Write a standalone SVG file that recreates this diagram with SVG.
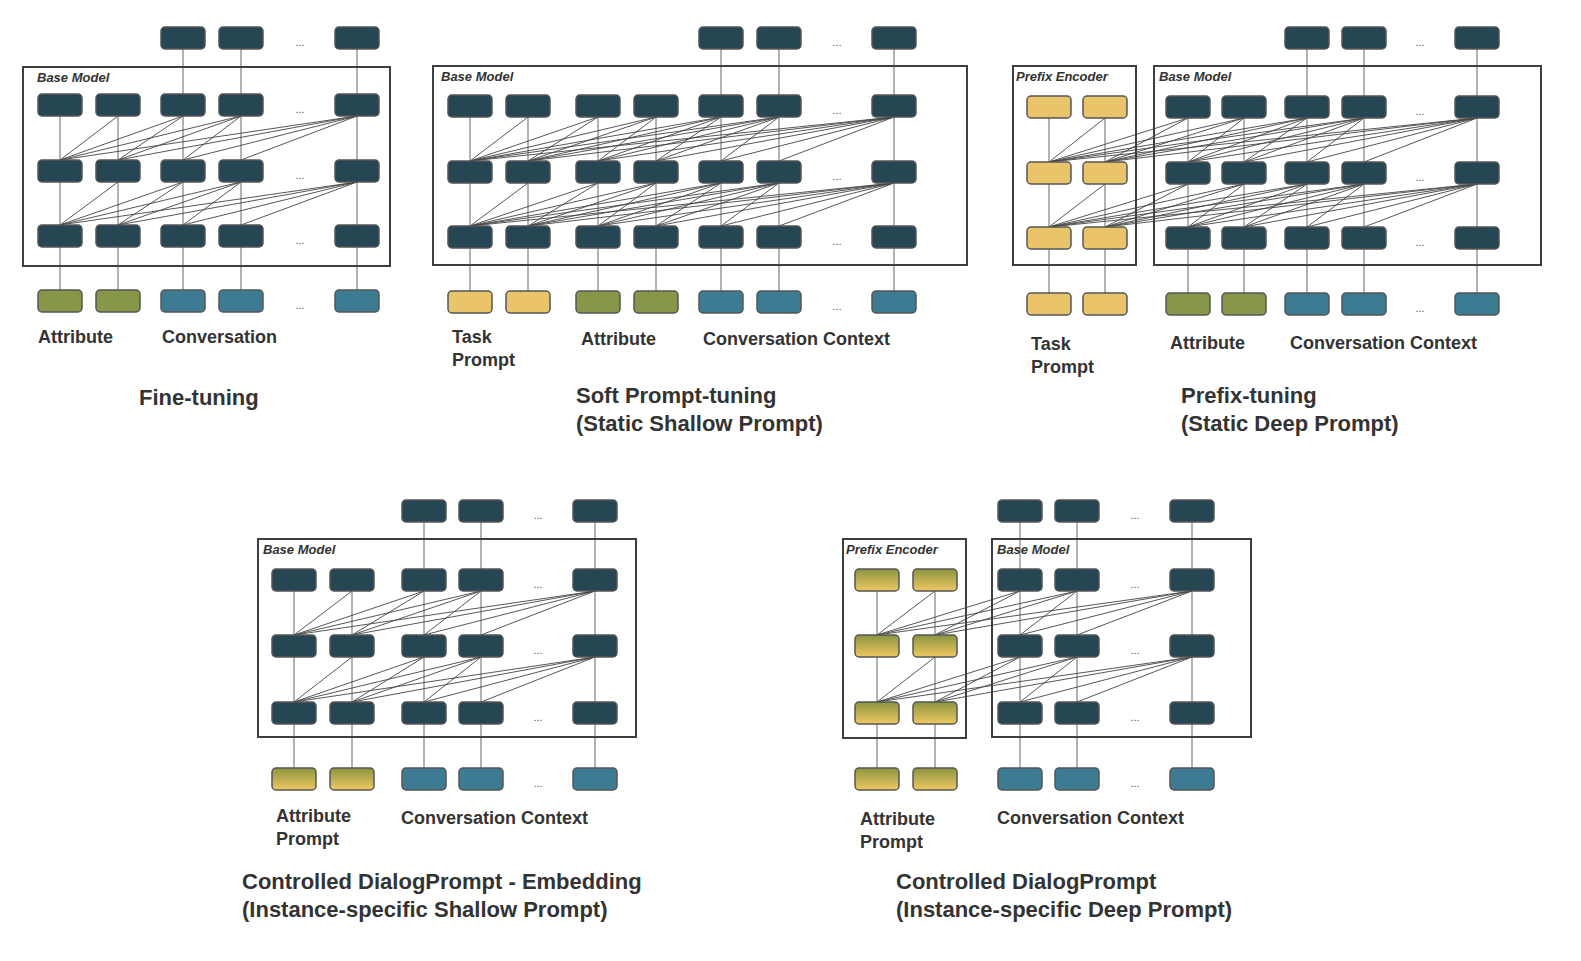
<svg xmlns="http://www.w3.org/2000/svg" xmlns:xlink="http://www.w3.org/1999/xlink" width="1581" height="961" viewBox="0 0 1581 961">
<style>
.d{fill:#264653}.g{fill:#86974a}.b{fill:#3d7b92}.y{fill:#e9c46a}.yg{fill:url(#yg)}
use{stroke:#555;stroke-width:1.5}
.box{fill:none;stroke:#3a3f44;stroke-width:2}
.ln{fill:none;stroke:#444;stroke-width:0.9}
.vl{stroke:#666;stroke-width:1}
.bm{font:italic bold 13px "Liberation Sans",Arial,sans-serif;fill:#333}
.lb{font:bold 18px "Liberation Sans",Arial,sans-serif;fill:#333}
.tt{font:bold 22px "Liberation Sans",Arial,sans-serif;fill:#333}
.dt{font:11px "Liberation Sans",Arial,sans-serif;fill:#555;text-anchor:middle}
</style>
<defs>
<linearGradient id="yg" x1="0" y1="0" x2="0" y2="1"><stop offset="0" stop-color="#8c9440"/><stop offset="1" stop-color="#efc862"/></linearGradient>
<rect id="nd" x="-22" y="-11" width="44" height="22" rx="4"/>
</defs>
<rect width="1581" height="961" fill="#fff"/>

<g id="connectors">
<!-- panel 1 -->
<g class="vl"><line x1="60" y1="105" x2="60" y2="301"/><line x1="118" y1="105" x2="118" y2="301"/><line x1="183" y1="38" x2="183" y2="301"/><line x1="241" y1="38" x2="241" y2="301"/><line x1="357" y1="38" x2="357" y2="301"/></g>
<path class="ln" d="M118 116L60 160M183 116L60 160M183 116L118 160M241 116L60 160M241 116L118 160M241 116L183 160M357 116L60 160M357 116L118 160M357 116L183 160M357 116L241 160M118 182L60 225M183 182L60 225M183 182L118 225M241 182L60 225M241 182L118 225M241 182L183 225M357 182L60 225M357 182L118 225M357 182L183 225M357 182L241 225"/>
<!-- panel 2 -->
<g class="vl"><line x1="470" y1="106" x2="470" y2="302"/><line x1="528" y1="106" x2="528" y2="302"/><line x1="598" y1="106" x2="598" y2="302"/><line x1="656" y1="106" x2="656" y2="302"/><line x1="721" y1="38" x2="721" y2="302"/><line x1="779" y1="38" x2="779" y2="302"/><line x1="894" y1="38" x2="894" y2="302"/></g>
<path class="ln" d="M528 117L470 161M598 117L470 161M598 117L528 161M656 117L470 161M656 117L528 161M656 117L598 161M721 117L470 161M721 117L528 161M721 117L598 161M721 117L656 161M779 117L470 161M779 117L528 161M779 117L598 161M779 117L656 161M779 117L721 161M894 117L470 161M894 117L528 161M894 117L598 161M894 117L656 161M894 117L721 161M894 117L779 161
M528 183L470 226M598 183L470 226M598 183L528 226M656 183L470 226M656 183L528 226M656 183L598 226M721 183L470 226M721 183L528 226M721 183L598 226M721 183L656 226M779 183L470 226M779 183L528 226M779 183L598 226M779 183L656 226M779 183L721 226M894 183L470 226M894 183L528 226M894 183L598 226M894 183L656 226M894 183L721 226M894 183L779 226"/>
<!-- panel 3 -->
<g class="vl"><line x1="1049" y1="107" x2="1049" y2="304"/><line x1="1105" y1="107" x2="1105" y2="304"/><line x1="1188" y1="107" x2="1188" y2="304"/><line x1="1244" y1="107" x2="1244" y2="304"/><line x1="1307" y1="38" x2="1307" y2="304"/><line x1="1364" y1="38" x2="1364" y2="304"/><line x1="1477" y1="38" x2="1477" y2="304"/></g>
<path class="ln" d="M1105 118L1049 162M1188 118L1049 162M1188 118L1105 162M1244 118L1049 162M1244 118L1105 162M1244 118L1188 162M1307 118L1049 162M1307 118L1105 162M1307 118L1188 162M1307 118L1244 162M1364 118L1049 162M1364 118L1105 162M1364 118L1188 162M1364 118L1244 162M1364 118L1307 162M1477 118L1049 162M1477 118L1105 162M1477 118L1188 162M1477 118L1244 162M1477 118L1307 162M1477 118L1364 162
M1105 184L1049 227M1188 184L1049 227M1188 184L1105 227M1244 184L1049 227M1244 184L1105 227M1244 184L1188 227M1307 184L1049 227M1307 184L1105 227M1307 184L1188 227M1307 184L1244 227M1364 184L1049 227M1364 184L1105 227M1364 184L1188 227M1364 184L1244 227M1364 184L1307 227M1477 184L1049 227M1477 184L1105 227M1477 184L1188 227M1477 184L1244 227M1477 184L1307 227M1477 184L1364 227"/>
<!-- panel 4 -->
<g class="vl"><line x1="294" y1="580" x2="294" y2="779"/><line x1="352" y1="580" x2="352" y2="779"/><line x1="424" y1="511" x2="424" y2="779"/><line x1="481" y1="511" x2="481" y2="779"/><line x1="595" y1="511" x2="595" y2="779"/></g>
<path class="ln" d="M352 591L294 635M424 591L294 635M424 591L352 635M481 591L294 635M481 591L352 635M481 591L424 635M595 591L294 635M595 591L352 635M595 591L424 635M595 591L481 635M352 657L294 702M424 657L294 702M424 657L352 702M481 657L294 702M481 657L352 702M481 657L424 702M595 657L294 702M595 657L352 702M595 657L424 702M595 657L481 702"/>
<!-- panel 5 -->
<g class="vl"><line x1="877" y1="580" x2="877" y2="779"/><line x1="935" y1="580" x2="935" y2="779"/><line x1="1020" y1="511" x2="1020" y2="779"/><line x1="1077" y1="511" x2="1077" y2="779"/><line x1="1192" y1="511" x2="1192" y2="779"/></g>
<path class="ln" d="M935 591L877 635M1020 591L877 635M1020 591L935 635M1077 591L877 635M1077 591L935 635M1077 591L1020 635M1192 591L877 635M1192 591L935 635M1192 591L1020 635M1192 591L1077 635M935 657L877 702M1020 657L877 702M1020 657L935 702M1077 657L877 702M1077 657L935 702M1077 657L1020 702M1192 657L877 702M1192 657L935 702M1192 657L1020 702M1192 657L1077 702"/>
</g>

<!-- boxes -->
<rect id="p1-base" class="box" x="23" y="67" width="367" height="199"/>
<rect id="p2-base" class="box" x="433" y="66" width="534" height="199"/>
<rect id="p3-prefix" class="box" x="1013" y="66" width="123" height="199"/>
<rect id="p3-base" class="box" x="1154" y="66" width="387" height="199"/>
<rect id="p4-base" class="box" x="258" y="539" width="378" height="198"/>
<rect id="p5-prefix" class="box" x="843" y="539" width="123" height="199"/>
<rect id="p5-base" class="box" x="992" y="539" width="259" height="198"/>
<text class="bm" x="37" y="82">Base Model</text>
<text class="bm" x="441" y="81">Base Model</text>
<text class="bm" x="1016" y="81">Prefix Encoder</text>
<text class="bm" x="1159" y="81">Base Model</text>
<text class="bm" x="263" y="554">Base Model</text>
<text class="bm" x="846" y="554">Prefix Encoder</text>
<text class="bm" x="997" y="554">Base Model</text>

<!-- panel 1 nodes -->
<g id="p1-nodes">
<use id="p1o2" href="#nd" x="183" y="38" class="d"/><use id="p1o3" href="#nd" x="241" y="38" class="d"/><use id="p1o4" href="#nd" x="357" y="38" class="d"/>
<use id="p1a0" href="#nd" x="60" y="105" class="d"/><use id="p1a1" href="#nd" x="118" y="105" class="d"/><use id="p1a2" href="#nd" x="183" y="105" class="d"/><use id="p1a3" href="#nd" x="241" y="105" class="d"/><use id="p1a4" href="#nd" x="357" y="105" class="d"/>
<use id="p1b0" href="#nd" x="60" y="171" class="d"/><use id="p1b1" href="#nd" x="118" y="171" class="d"/><use id="p1b2" href="#nd" x="183" y="171" class="d"/><use id="p1b3" href="#nd" x="241" y="171" class="d"/><use id="p1b4" href="#nd" x="357" y="171" class="d"/>
<use id="p1c0" href="#nd" x="60" y="236" class="d"/><use id="p1c1" href="#nd" x="118" y="236" class="d"/><use id="p1c2" href="#nd" x="183" y="236" class="d"/><use id="p1c3" href="#nd" x="241" y="236" class="d"/><use id="p1c4" href="#nd" x="357" y="236" class="d"/>
<use id="p1i0" href="#nd" x="60" y="301" class="g"/><use id="p1i1" href="#nd" x="118" y="301" class="g"/><use id="p1i2" href="#nd" x="183" y="301" class="b"/><use id="p1i3" href="#nd" x="241" y="301" class="b"/><use id="p1i4" href="#nd" x="357" y="301" class="b"/>
</g>
<g class="dt"><text x="300" y="46">...</text><text x="300" y="113">...</text><text x="300" y="179">...</text><text x="300" y="244">...</text><text x="300" y="309">...</text></g>
<text class="lb" x="38" y="343">Attribute</text><text class="lb" x="162" y="343">Conversation</text>
<text class="tt" x="139" y="405">Fine-tuning</text>

<!-- panel 2 nodes -->
<g id="p2-nodes">
<use id="p2o4" href="#nd" x="721" y="38" class="d"/><use id="p2o5" href="#nd" x="779" y="38" class="d"/><use id="p2o6" href="#nd" x="894" y="38" class="d"/>
<use id="p2a0" href="#nd" x="470" y="106" class="d"/><use id="p2a1" href="#nd" x="528" y="106" class="d"/><use id="p2a2" href="#nd" x="598" y="106" class="d"/><use id="p2a3" href="#nd" x="656" y="106" class="d"/><use id="p2a4" href="#nd" x="721" y="106" class="d"/><use id="p2a5" href="#nd" x="779" y="106" class="d"/><use id="p2a6" href="#nd" x="894" y="106" class="d"/>
<use id="p2b0" href="#nd" x="470" y="172" class="d"/><use id="p2b1" href="#nd" x="528" y="172" class="d"/><use id="p2b2" href="#nd" x="598" y="172" class="d"/><use id="p2b3" href="#nd" x="656" y="172" class="d"/><use id="p2b4" href="#nd" x="721" y="172" class="d"/><use id="p2b5" href="#nd" x="779" y="172" class="d"/><use id="p2b6" href="#nd" x="894" y="172" class="d"/>
<use id="p2c0" href="#nd" x="470" y="237" class="d"/><use id="p2c1" href="#nd" x="528" y="237" class="d"/><use id="p2c2" href="#nd" x="598" y="237" class="d"/><use id="p2c3" href="#nd" x="656" y="237" class="d"/><use id="p2c4" href="#nd" x="721" y="237" class="d"/><use id="p2c5" href="#nd" x="779" y="237" class="d"/><use id="p2c6" href="#nd" x="894" y="237" class="d"/>
<use id="p2i0" href="#nd" x="470" y="302" class="y"/><use id="p2i1" href="#nd" x="528" y="302" class="y"/><use id="p2i2" href="#nd" x="598" y="302" class="g"/><use id="p2i3" href="#nd" x="656" y="302" class="g"/><use id="p2i4" href="#nd" x="721" y="302" class="b"/><use id="p2i5" href="#nd" x="779" y="302" class="b"/><use id="p2i6" href="#nd" x="894" y="302" class="b"/>
</g>
<g class="dt"><text x="837" y="46">...</text><text x="837" y="114">...</text><text x="837" y="180">...</text><text x="837" y="245">...</text><text x="837" y="310">...</text></g>
<text class="lb" x="452" y="343">Task</text><text class="lb" x="452" y="366">Prompt</text>
<text class="lb" x="581" y="345">Attribute</text><text class="lb" x="703" y="345">Conversation Context</text>
<text class="tt" x="576" y="403">Soft Prompt-tuning</text><text class="tt" x="576" y="431">(Static Shallow Prompt)</text>

<!-- panel 3 nodes -->
<g id="p3-nodes">
<use id="p3o4" href="#nd" x="1307" y="38" class="d"/><use id="p3o5" href="#nd" x="1364" y="38" class="d"/><use id="p3o6" href="#nd" x="1477" y="38" class="d"/>
<use id="p3a0" href="#nd" x="1049" y="107" class="y"/><use id="p3a1" href="#nd" x="1105" y="107" class="y"/><use id="p3a2" href="#nd" x="1188" y="107" class="d"/><use id="p3a3" href="#nd" x="1244" y="107" class="d"/><use id="p3a4" href="#nd" x="1307" y="107" class="d"/><use id="p3a5" href="#nd" x="1364" y="107" class="d"/><use id="p3a6" href="#nd" x="1477" y="107" class="d"/>
<use id="p3b0" href="#nd" x="1049" y="173" class="y"/><use id="p3b1" href="#nd" x="1105" y="173" class="y"/><use id="p3b2" href="#nd" x="1188" y="173" class="d"/><use id="p3b3" href="#nd" x="1244" y="173" class="d"/><use id="p3b4" href="#nd" x="1307" y="173" class="d"/><use id="p3b5" href="#nd" x="1364" y="173" class="d"/><use id="p3b6" href="#nd" x="1477" y="173" class="d"/>
<use id="p3c0" href="#nd" x="1049" y="238" class="y"/><use id="p3c1" href="#nd" x="1105" y="238" class="y"/><use id="p3c2" href="#nd" x="1188" y="238" class="d"/><use id="p3c3" href="#nd" x="1244" y="238" class="d"/><use id="p3c4" href="#nd" x="1307" y="238" class="d"/><use id="p3c5" href="#nd" x="1364" y="238" class="d"/><use id="p3c6" href="#nd" x="1477" y="238" class="d"/>
<use id="p3i0" href="#nd" x="1049" y="304" class="y"/><use id="p3i1" href="#nd" x="1105" y="304" class="y"/><use id="p3i2" href="#nd" x="1188" y="304" class="g"/><use id="p3i3" href="#nd" x="1244" y="304" class="g"/><use id="p3i4" href="#nd" x="1307" y="304" class="b"/><use id="p3i5" href="#nd" x="1364" y="304" class="b"/><use id="p3i6" href="#nd" x="1477" y="304" class="b"/>
</g>
<g class="dt"><text x="1420" y="46">...</text><text x="1420" y="115">...</text><text x="1420" y="181">...</text><text x="1420" y="246">...</text><text x="1420" y="312">...</text></g>
<text class="lb" x="1031" y="350">Task</text><text class="lb" x="1031" y="373">Prompt</text>
<text class="lb" x="1170" y="349">Attribute</text><text class="lb" x="1290" y="349">Conversation Context</text>
<text class="tt" x="1181" y="403">Prefix-tuning</text><text class="tt" x="1181" y="431">(Static Deep Prompt)</text>

<!-- panel 4 nodes -->
<g id="p4-nodes">
<use id="p4o2" href="#nd" x="424" y="511" class="d"/><use id="p4o3" href="#nd" x="481" y="511" class="d"/><use id="p4o4" href="#nd" x="595" y="511" class="d"/>
<use id="p4a0" href="#nd" x="294" y="580" class="d"/><use id="p4a1" href="#nd" x="352" y="580" class="d"/><use id="p4a2" href="#nd" x="424" y="580" class="d"/><use id="p4a3" href="#nd" x="481" y="580" class="d"/><use id="p4a4" href="#nd" x="595" y="580" class="d"/>
<use id="p4b0" href="#nd" x="294" y="646" class="d"/><use id="p4b1" href="#nd" x="352" y="646" class="d"/><use id="p4b2" href="#nd" x="424" y="646" class="d"/><use id="p4b3" href="#nd" x="481" y="646" class="d"/><use id="p4b4" href="#nd" x="595" y="646" class="d"/>
<use id="p4c0" href="#nd" x="294" y="713" class="d"/><use id="p4c1" href="#nd" x="352" y="713" class="d"/><use id="p4c2" href="#nd" x="424" y="713" class="d"/><use id="p4c3" href="#nd" x="481" y="713" class="d"/><use id="p4c4" href="#nd" x="595" y="713" class="d"/>
<use id="p4i0" href="#nd" x="294" y="779" class="yg"/><use id="p4i1" href="#nd" x="352" y="779" class="yg"/><use id="p4i2" href="#nd" x="424" y="779" class="b"/><use id="p4i3" href="#nd" x="481" y="779" class="b"/><use id="p4i4" href="#nd" x="595" y="779" class="b"/>
</g>
<g class="dt"><text x="538" y="519">...</text><text x="538" y="588">...</text><text x="538" y="654">...</text><text x="538" y="721">...</text><text x="538" y="787">...</text></g>
<text class="lb" x="276" y="822">Attribute</text><text class="lb" x="276" y="845">Prompt</text>
<text class="lb" x="401" y="824">Conversation Context</text>
<text class="tt" x="242" y="889">Controlled DialogPrompt - Embedding</text><text class="tt" x="242" y="917">(Instance-specific Shallow Prompt)</text>

<!-- panel 5 nodes -->
<g id="p5-nodes">
<use id="p5o2" href="#nd" x="1020" y="511" class="d"/><use id="p5o3" href="#nd" x="1077" y="511" class="d"/><use id="p5o4" href="#nd" x="1192" y="511" class="d"/>
<use id="p5a0" href="#nd" x="877" y="580" class="yg"/><use id="p5a1" href="#nd" x="935" y="580" class="yg"/><use id="p5a2" href="#nd" x="1020" y="580" class="d"/><use id="p5a3" href="#nd" x="1077" y="580" class="d"/><use id="p5a4" href="#nd" x="1192" y="580" class="d"/>
<use id="p5b0" href="#nd" x="877" y="646" class="yg"/><use id="p5b1" href="#nd" x="935" y="646" class="yg"/><use id="p5b2" href="#nd" x="1020" y="646" class="d"/><use id="p5b3" href="#nd" x="1077" y="646" class="d"/><use id="p5b4" href="#nd" x="1192" y="646" class="d"/>
<use id="p5c0" href="#nd" x="877" y="713" class="yg"/><use id="p5c1" href="#nd" x="935" y="713" class="yg"/><use id="p5c2" href="#nd" x="1020" y="713" class="d"/><use id="p5c3" href="#nd" x="1077" y="713" class="d"/><use id="p5c4" href="#nd" x="1192" y="713" class="d"/>
<use id="p5i0" href="#nd" x="877" y="779" class="yg"/><use id="p5i1" href="#nd" x="935" y="779" class="yg"/><use id="p5i2" href="#nd" x="1020" y="779" class="b"/><use id="p5i3" href="#nd" x="1077" y="779" class="b"/><use id="p5i4" href="#nd" x="1192" y="779" class="b"/>
</g>
<g class="dt"><text x="1135" y="519">...</text><text x="1135" y="588">...</text><text x="1135" y="654">...</text><text x="1135" y="721">...</text><text x="1135" y="787">...</text></g>
<text class="lb" x="860" y="825">Attribute</text><text class="lb" x="860" y="848">Prompt</text>
<text class="lb" x="997" y="824">Conversation Context</text>
<text class="tt" x="896" y="889">Controlled DialogPrompt</text><text class="tt" x="896" y="917">(Instance-specific Deep Prompt)</text>
</svg>
